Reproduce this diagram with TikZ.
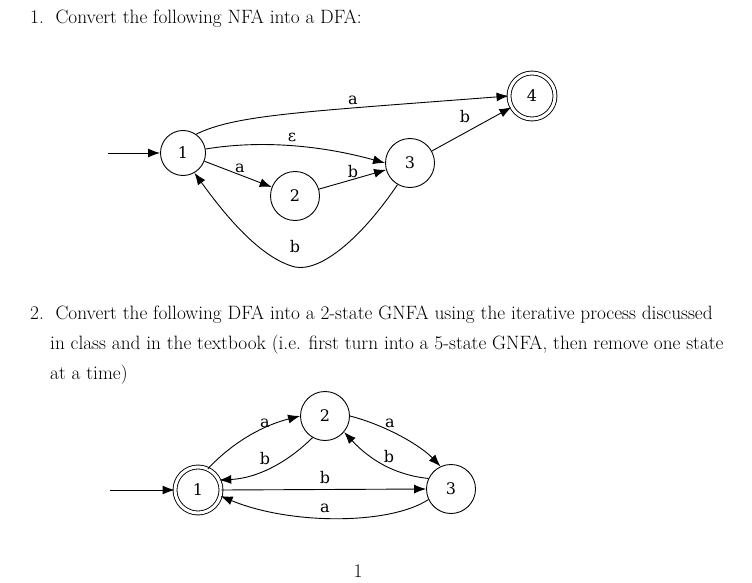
\documentclass[tikz,border=0pt]{standalone}
\usepackage{fontspec}
\newfontfamily\gv{DejaVu Serif}
\usetikzlibrary{arrows.meta}
\begin{document}
\begin{tikzpicture}[x=1pt,y=-1pt,
  st/.style={circle,draw,line width=0.9pt,minimum size=46pt,inner sep=0pt,font=\gv\fontsize{16}{18}\selectfont},
  acc/.style={st,double,double distance=3pt,minimum size=44pt},
  ed/.style={-{Latex[length=12pt,width=9pt]},line width=0.9pt},
  lb/.style={font=\gv\fontsize{16}{18}\selectfont,inner sep=1pt},
  tx/.style={anchor=base west,inner sep=0pt,font=\fontsize{19.3}{22}\selectfont}]
\useasboundingbox (0,0) rectangle (752,583);
\node[tx] (t1) at (30,24) {1.\ \ Convert the following NFA into a DFA:};
\node[tx] (t2) at (30,319) {2.\ \ Convert the following DFA into a 2-state GNFA using the iterative process discussed};
\node[tx] (t3) at (50,349) {in class and in the textbook (i.e. first turn into a 5-state GNFA, then remove one state};
\node[tx] (t4) at (50,379) {at a time)};
\node[tx,anchor=base] (pg) at (358,577) {1};
% graph 1
\node[st,minimum size=45pt] (a1) at (183,153) {1};
\node[st,minimum size=49pt] (a2) at (295,196) {2};
\node[st,minimum size=49pt] (a3) at (410,163) {3};
\node[acc,minimum size=46pt] (a4) at (532,96) {4};
\coordinate (s1) at (108,153);
\draw[ed] (s1) -- (a1);
\draw[ed] (a1.55) .. controls (235,115) and (300,112) .. (a4.west);
\node[lb] at (353,100) {a};
\draw[ed] (a1.10) .. controls (260,140) and (320,145) .. (a3.west);
\node[lb] at (292,137) {ε};
\draw[ed] (a1) -- (a2);
\node[lb] at (240,168) {a};
\draw[ed] (a2) -- (a3);
\node[lb] at (353,172) {b};
\draw[ed] (a3) -- (a4);
\node[lb] at (465,117) {b};
\draw[ed] (a3.240) .. controls (360,240) and (320,272) .. (295,267) .. controls (260,258) and (225,215) .. (a1.300);
\node[lb] at (295,247) {b};
% graph 2
\node[acc,minimum size=46pt] (b1) at (198,490) {1};
\node[st,minimum size=49pt] (b2) at (325,416) {2};
\node[st,minimum size=49pt] (b3) at (451,489) {3};
\coordinate (s2) at (110,490);
\draw[ed] (s2) -- (b1);
\draw[ed] (b1.65) .. controls (235,440) and (265,425) .. (b2.west);
\node[lb] at (265,423) {a};
\draw[ed] (b2.240) .. controls (290,460) and (260,478) .. (b1.25);
\node[lb] at (265,459) {b};
\draw[ed] (b2.east) .. controls (385,425) and (420,445) .. (b3.115);
\node[lb] at (390,423) {a};
\draw[ed] (b3.155) .. controls (395,475) and (370,460) .. (b2.320);
\node[lb] at (389,457) {b};
\draw[ed] (b1.east) -- (b3.west);
\node[lb] at (325,478) {b};
\draw[ed] (b3.205) .. controls (390,525) and (290,525) .. (b1.345);
\node[lb] at (325,508) {a};
\end{tikzpicture}
\end{document}
